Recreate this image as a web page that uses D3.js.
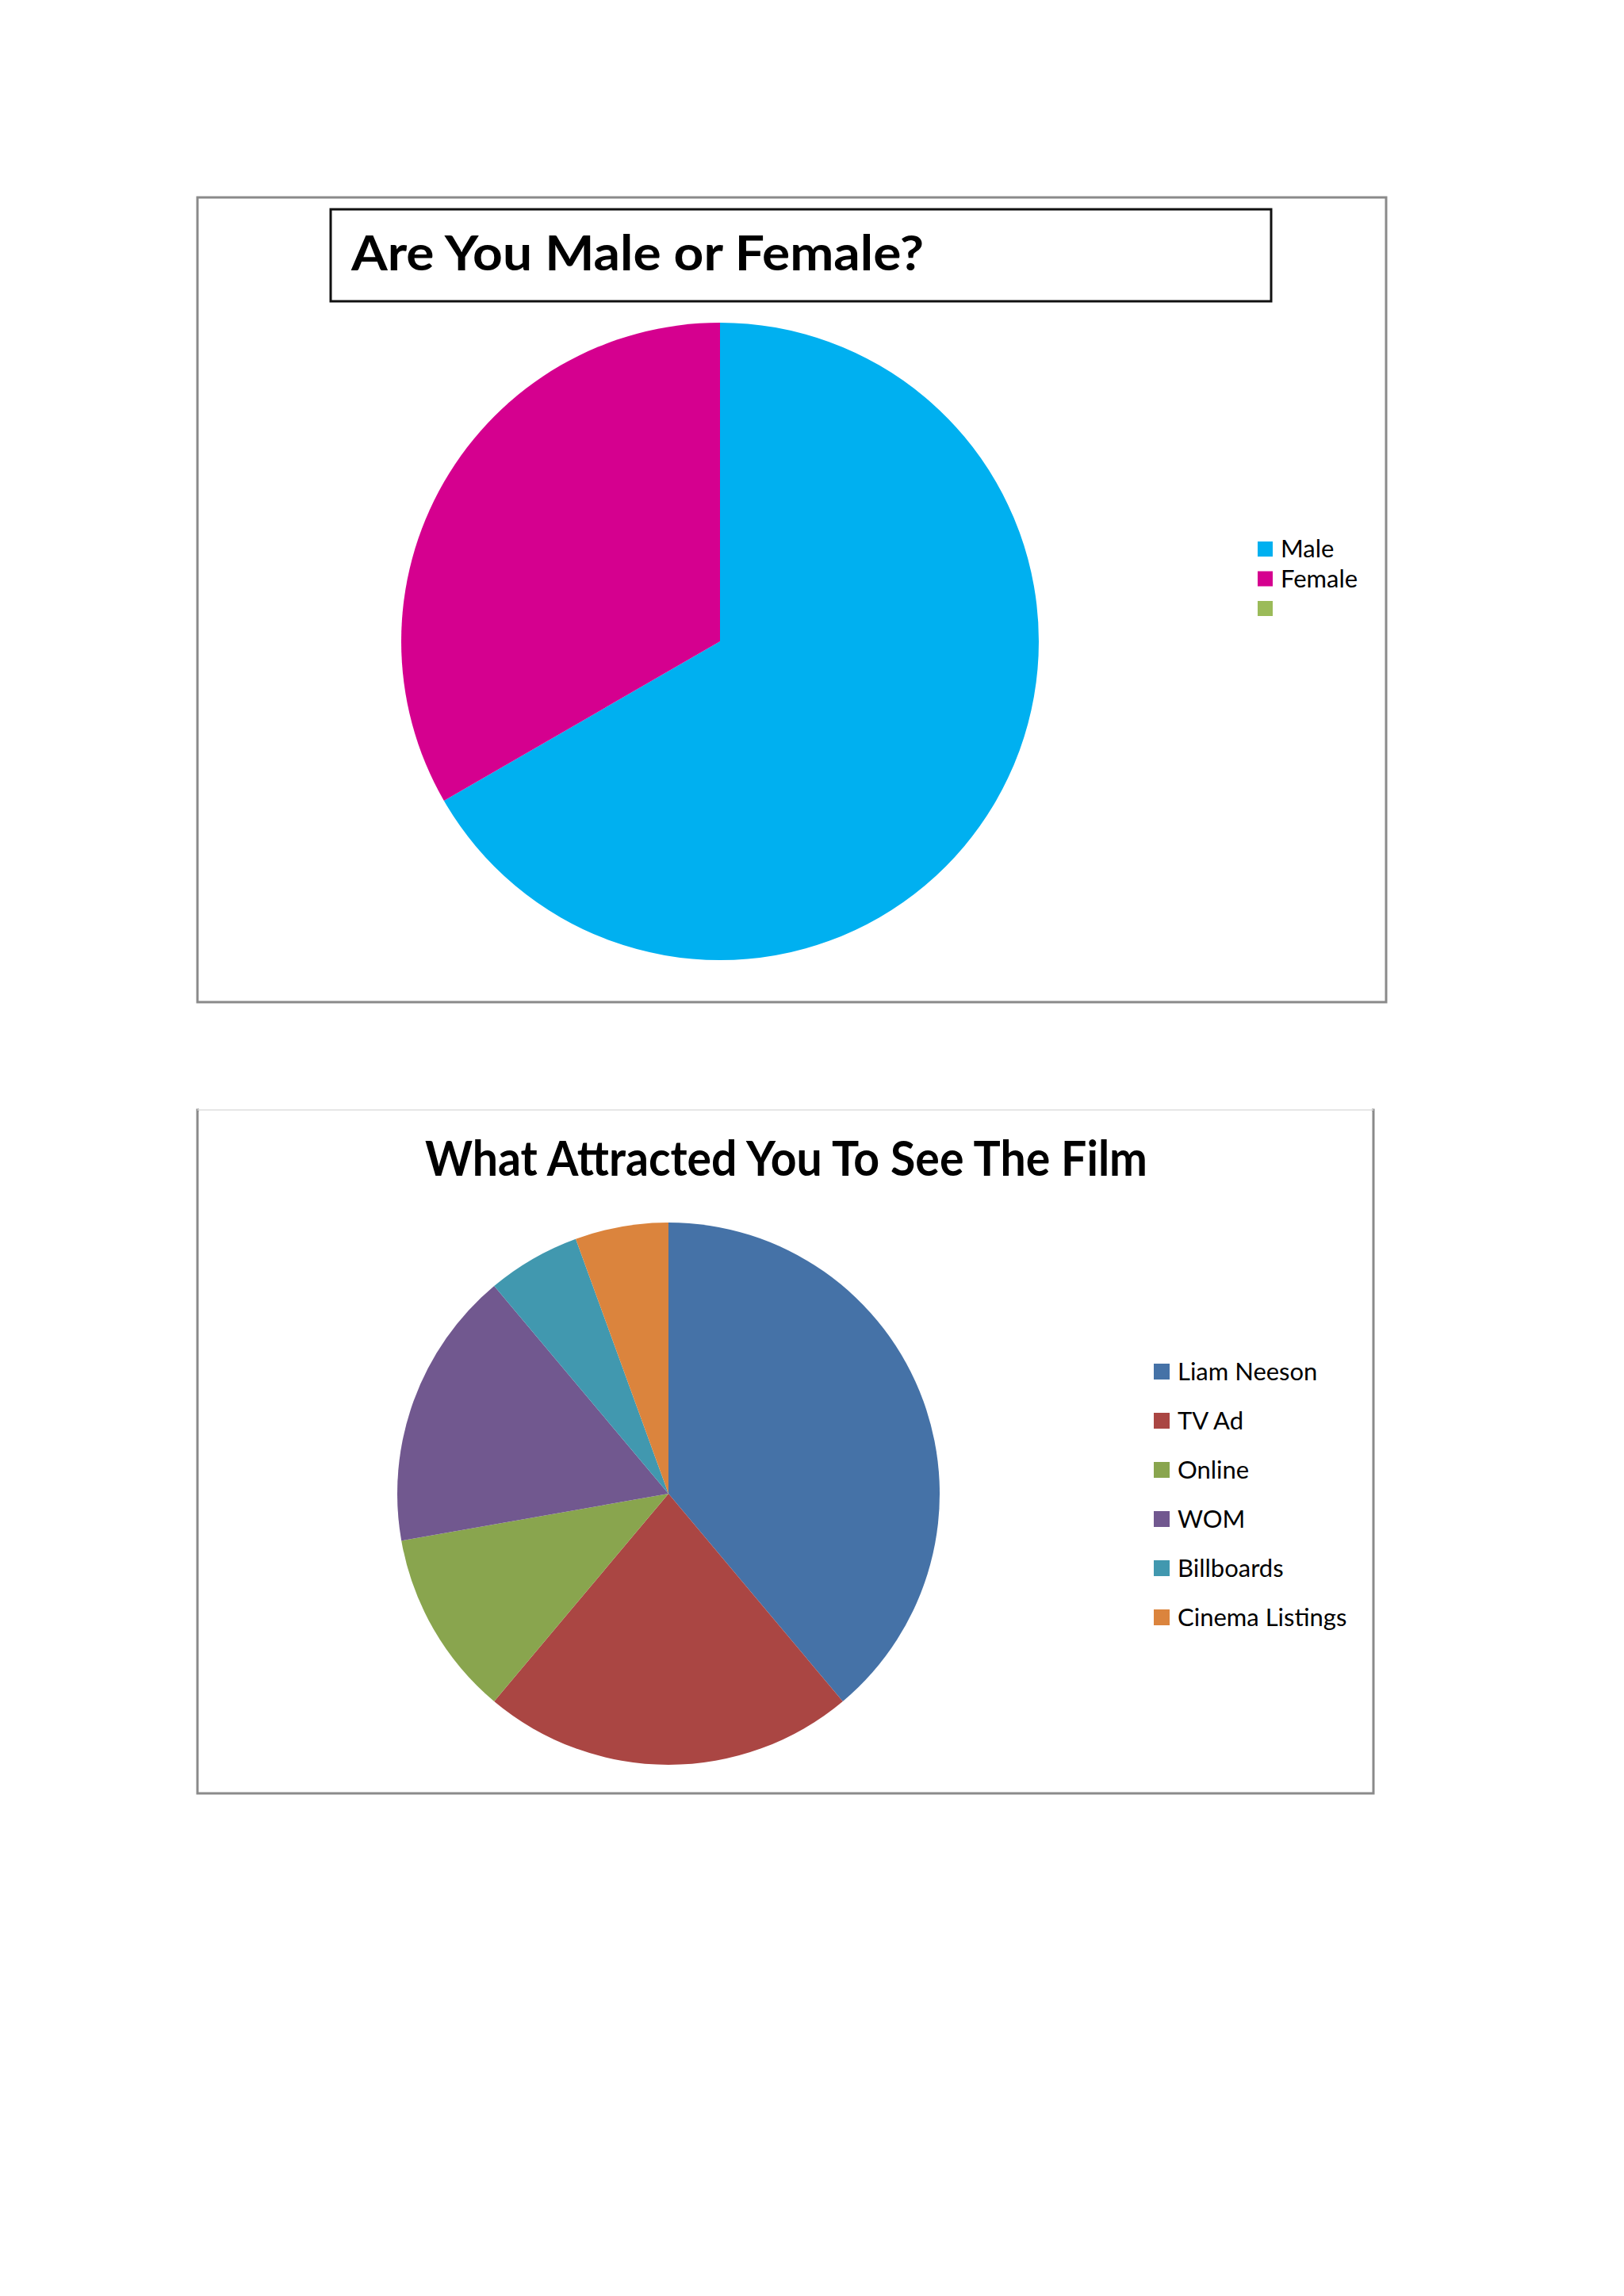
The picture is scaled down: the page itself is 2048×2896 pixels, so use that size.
<!DOCTYPE html>
<html>
<head>
<meta charset="utf-8">
<script src="https://cdn.jsdelivr.net/npm/d3@7"></script>
<style>
  body { margin: 0; background: #ffffff; }
  text { font-family: Lato, "Open Sans", sans-serif; fill: #000; }
</style>
</head>
<body>
<div id="page"></div>
<script>
// chart values
const genderLabels = ['Male', 'Female', ''];
const genderValues = [12, 6, 0];
const genderColors = ['#00B0F0', '#D5008F', '#9BBB59'];

const sourceLabels = ['Liam Neeson', 'TV Ad', 'Online', 'WOM', 'Billboards', 'Cinema Listings'];
const sourceValues = [7, 4, 2, 3, 1, 1];
const sourceColors = ['#4572A7', '#AA4643', '#89A54E', '#71588F', '#4198AF', '#DB843D'];

const width = 2048;
const height = 2896;

const svg = d3.select('#page')
    .append('svg')
    .attr('width', width)
    .attr('height', height);

svg.append('rect')
    .attr('width', width)
    .attr('height', height)
    .attr('fill', '#ffffff');

const pie = d3.pie().sort(null).value(d => d.value);

// draws one pie chart with its frame, title and legend
function drawChart(opts) {
    const g = svg.append('g');

    // outer frame
    g.append('rect')
        .attr('x', opts.frame[0])
        .attr('y', opts.frame[1])
        .attr('width', opts.frame[2])
        .attr('height', opts.frame[3])
        .attr('fill', 'none')
        .attr('stroke', '#8a8a8a')
        .attr('stroke-width', 3);

    // second chart has a very faint top edge
    if (opts.faintTop) {
        g.append('line')
            .attr('x1', opts.frame[0] + 2)
            .attr('x2', opts.frame[0] + opts.frame[2] - 2)
            .attr('y1', opts.frame[1])
            .attr('y2', opts.frame[1])
            .attr('stroke', '#ffffff')
            .attr('stroke-width', 4);
        g.append('line')
            .attr('x1', opts.frame[0])
            .attr('x2', opts.frame[0] + opts.frame[2])
            .attr('y1', opts.frame[1])
            .attr('y2', opts.frame[1])
            .attr('stroke', '#dedede')
            .attr('stroke-width', 1.5);
    }

    if (opts.titleBox) {
        g.append('rect')
            .attr('x', opts.titleBox[0])
            .attr('y', opts.titleBox[1])
            .attr('width', opts.titleBox[2])
            .attr('height', opts.titleBox[3])
            .attr('fill', '#ffffff')
            .attr('stroke', '#111')
            .attr('stroke-width', 3);
    }

    g.append('text')
        .text(opts.title)
        .attr('x', opts.titlePos[0])
        .attr('y', opts.titlePos[1])
        .attr('textLength', opts.titleWidth)
        .attr('lengthAdjust', 'spacingAndGlyphs')
        .style('font-size', '62px')
        .style('font-weight', 'bold');

    const data = opts.labels.map((l, i) => ({label: l, value: opts.values[i], color: opts.colors[i]}));

    const arc = d3.arc().innerRadius(0).outerRadius(opts.radius);

    g.append('g')
        .attr('transform', `translate(${opts.center[0]}, ${opts.center[1]})`)
        .selectAll('path')
        .data(pie(data))
        .enter()
        .append('path')
        .attr('d', arc)
        .attr('fill', d => d.data.color);

    // legend rows placed with a point scale
    const rowScale = d3.scalePoint()
        .domain(d3.range(data.length))
        .range([opts.legendY, opts.legendY + opts.legendStep * (data.length - 1)]);

    const rows = g.selectAll('.legend-row')
        .data(data)
        .enter()
        .append('g')
        .attr('class', 'legend-row')
        .attr('transform', (d, i) => `translate(${opts.legendX}, ${rowScale(i)})`);

    rows.append('rect')
        .attr('x', 0)
        .attr('y', 0)
        .attr('width', opts.swatch)
        .attr('height', opts.swatch)
        .attr('fill', d => d.color);

    rows.append('text')
        .text(d => d.label)
        .attr('x', opts.swatch + 10)
        .attr('y', opts.swatch + 1)
        .style('font-size', '31px');
}

drawChart({
    frame: [249, 249, 1499, 1015],
    titleBox: [417, 264, 1186, 116],
    title: 'Are You Male or Female?',
    titlePos: [443, 341],
    titleWidth: 722,
    labels: genderLabels,
    values: genderValues,
    colors: genderColors,
    center: [908, 809],
    radius: 402,
    legendX: 1586,
    legendY: 683,
    legendStep: 37.5,
    swatch: 19
});

drawChart({
    frame: [249, 1400, 1483, 862],
    faintTop: true,
    title: 'What Attracted You To See The Film',
    titlePos: [536, 1483],
    titleWidth: 911,
    labels: sourceLabels,
    values: sourceValues,
    colors: sourceColors,
    center: [843, 1884],
    radius: 342,
    legendX: 1455,
    legendY: 1720,
    legendStep: 62,
    swatch: 20
});
</script>
</body>
</html>
